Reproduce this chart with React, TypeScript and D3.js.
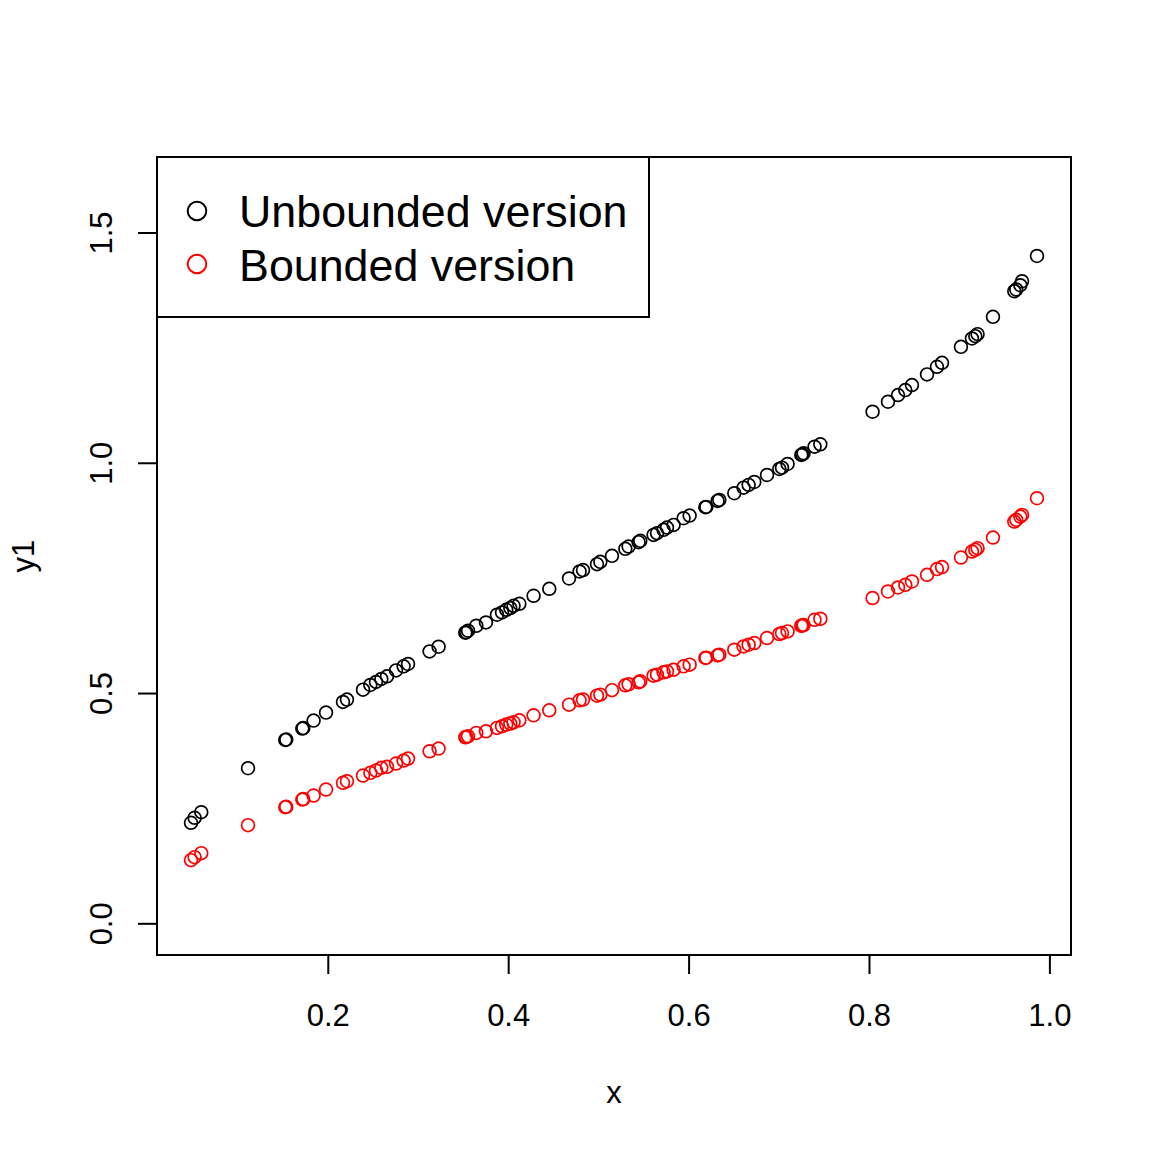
import * as d3 from "d3"

// x values shared by both series
const xs = [
  0.0478, 0.0518, 0.0592, 0.111, 0.1523, 0.1534, 0.1712, 0.1723, 0.1837, 0.1975,
  0.2163, 0.2207, 0.2385, 0.2466, 0.2529, 0.2588, 0.2651, 0.2751, 0.2835, 0.2884,
  0.3123, 0.3223, 0.3519, 0.353, 0.3549, 0.3641, 0.3748, 0.387, 0.3926, 0.3973,
  0.4018, 0.4054, 0.4118, 0.4276, 0.445, 0.4669, 0.4786, 0.4824, 0.4979, 0.5016,
  0.5145, 0.5293, 0.5329, 0.544, 0.5459, 0.5606, 0.5644, 0.5717, 0.5755, 0.5828,
  0.5939, 0.6006, 0.618, 0.6191, 0.6316, 0.6335, 0.6501, 0.6604, 0.666, 0.6723,
  0.6864, 0.7, 0.703, 0.7092, 0.7244, 0.7255, 0.7269, 0.7391, 0.7455, 0.8034,
  0.8205, 0.8316, 0.8397, 0.8471, 0.8638, 0.8748, 0.8804, 0.9014, 0.9136, 0.9173,
  0.9198, 0.9369, 0.9605, 0.9627, 0.9672, 0.9691, 0.9857,
]

// unbounded version
const yUnbounded = [
  0.2194, 0.2303, 0.2424, 0.3378, 0.3994, 0.4, 0.4239, 0.425, 0.4412, 0.4586,
  0.4818, 0.4868, 0.5085, 0.5186, 0.5252, 0.5317, 0.5373, 0.5503, 0.559, 0.5642,
  0.5915, 0.6017, 0.6321, 0.6331, 0.6364, 0.6472, 0.6544, 0.6711, 0.6761, 0.6819,
  0.6856, 0.6906, 0.6949, 0.7123, 0.7274, 0.7498, 0.765, 0.768, 0.781, 0.786,
  0.799, 0.8142, 0.8192, 0.8287, 0.8315, 0.8445, 0.8482, 0.8554, 0.8604, 0.8662,
  0.8807, 0.8864, 0.9046, 0.9053, 0.9183, 0.9204, 0.935, 0.9471, 0.953, 0.9594,
  0.9746, 0.9876, 0.9905, 0.9985, 1.018, 1.0191, 1.0217, 1.036, 1.0412, 1.1119,
  1.1336, 1.1481, 1.1589, 1.1698, 1.193, 1.2095, 1.2181, 1.2528, 1.271, 1.276,
  1.2804, 1.3179, 1.3736, 1.3773, 1.3866, 1.3953, 1.4501,
]

// bounded version
const yBounded = [
  0.1383, 0.1448, 0.1535, 0.2142, 0.2533, 0.2541, 0.2699, 0.271, 0.2786, 0.2916,
  0.3062, 0.3096, 0.322, 0.3278, 0.3328, 0.3387, 0.3408, 0.348, 0.3545, 0.3588,
  0.3747, 0.3805, 0.405, 0.4059, 0.4072, 0.4146, 0.418, 0.4254, 0.4289, 0.4326,
  0.4347, 0.4376, 0.4419, 0.4527, 0.4636, 0.4759, 0.4853, 0.4868, 0.4954, 0.4976,
  0.5074, 0.5178, 0.52, 0.5243, 0.5265, 0.5388, 0.541, 0.546, 0.5481, 0.5518,
  0.559, 0.5627, 0.5772, 0.5778, 0.5828, 0.5843, 0.5952, 0.6023, 0.606, 0.6097,
  0.6206, 0.6292, 0.6314, 0.6349, 0.6472, 0.6479, 0.6487, 0.6602, 0.6624, 0.7073,
  0.7216, 0.7303, 0.7361, 0.7433, 0.7578, 0.7702, 0.7745, 0.7953, 0.8083, 0.812,
  0.8157, 0.8387, 0.8734, 0.8771, 0.8842, 0.8879, 0.9241,
]

const xTicks = [0.2, 0.4, 0.6, 0.8, 1.0]
const yTicks = [0.0, 0.5, 1.0, 1.5]
const legendLabels = ["Unbounded version", "Bounded version"]
const legendColors = ["#000000", "#ff0000"]

export default function App() {
  const width = 1152
  const height = 1152
  const left = 157
  const right = 1071
  const top = 157
  const bottom = 955
  const font = "'Liberation Sans', Arial, sans-serif"

  // R pads the data range by 4% on each side
  const x = d3.scaleLinear().domain([0.0101, 1.0234]).range([left, right])
  const y = d3.scaleLinear().domain([-0.0677, 1.665]).range([bottom, top])

  const series = [
    { values: yUnbounded, color: legendColors[0] },
    { values: yBounded, color: legendColors[1] },
  ]

  return (
    <svg
      width={width}
      height={height}
      style={{ position: "absolute", left: 0, top: 0, background: "#fff" }}
      fontFamily={font}
    >
      <rect x={0} y={0} width={width} height={height} fill="#fff" />

      {/* points */}
      {series.map((s, si) =>
        xs.map((xv, i) => (
          <circle
            key={`${si}-${i}`}
            cx={x(xv)}
            cy={y(s.values[i])}
            r={6.4}
            fill="none"
            stroke={s.color}
            strokeWidth={1.7}
          />
        ))
      )}

      {/* plot box */}
      <rect
        x={left}
        y={top}
        width={right - left}
        height={bottom - top}
        fill="none"
        stroke="#000"
        strokeWidth={2}
      />

      {/* x axis */}
      <line x1={x(0.2)} x2={x(1.0)} y1={bottom} y2={bottom} stroke="#000" strokeWidth={2} />
      {xTicks.map((t) => (
        <g key={t}>
          <line x1={x(t)} x2={x(t)} y1={bottom} y2={bottom + 19} stroke="#000" strokeWidth={2} />
          <text x={x(t)} y={1026} textAnchor="middle" fontSize={31} fill="#000">
            {t.toFixed(1)}
          </text>
        </g>
      ))}

      {/* y axis */}
      <line x1={left} x2={left} y1={y(0)} y2={y(1.5)} stroke="#000" strokeWidth={2} />
      {yTicks.map((t) => (
        <g key={t}>
          <line x1={left - 19} x2={left} y1={y(t)} y2={y(t)} stroke="#000" strokeWidth={2} />
          <text
            transform={`translate(112, ${y(t)}) rotate(-90)`}
            textAnchor="middle"
            fontSize={31}
            fill="#000"
          >
            {t.toFixed(1)}
          </text>
        </g>
      ))}

      {/* axis titles */}
      <text x={614} y={1103} textAnchor="middle" fontSize={31} fill="#000">
        x
      </text>
      <text transform="translate(34, 556) rotate(-90)" textAnchor="middle" fontSize={31} fill="#000">
        y1
      </text>

      {/* legend */}
      <rect x={left} y={top} width={649 - left} height={317 - top} fill="#fff" stroke="#000" strokeWidth={2} />
      {legendLabels.map((label, i) => (
        <g key={label}>
          <circle
            cx={197}
            cy={211 + i * 53}
            r={9.3}
            fill="none"
            stroke={legendColors[i]}
            strokeWidth={2}
          />
          <text x={239} y={227 + i * 53.5} fontSize={44.8} fill="#000">
            {label}
          </text>
        </g>
      ))}
    </svg>
  )
}
